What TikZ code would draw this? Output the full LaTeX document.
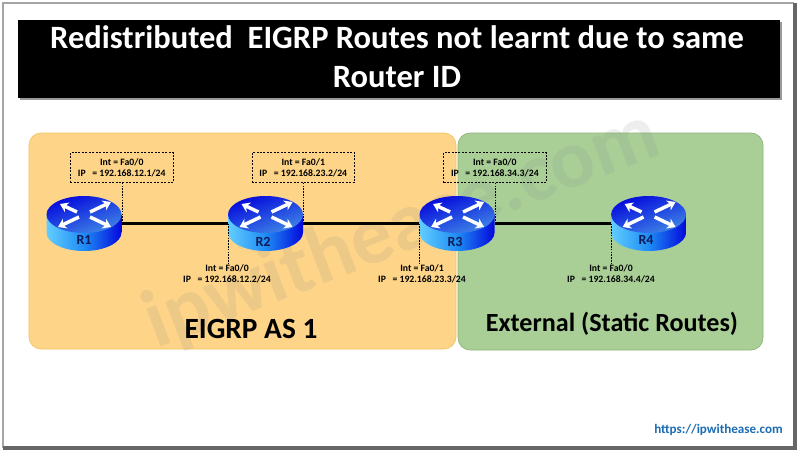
\documentclass[tikz,border=0pt]{standalone}
\usepackage{fontspec}
\setmainfont{Carlito}
\usetikzlibrary{arrows.meta,positioning,shadows}
\definecolor{eigrpfill}{HTML}{FDD488}
\definecolor{eigrpedge}{HTML}{F2C560}
\definecolor{extfill}{HTML}{A9CF97}
\definecolor{extedge}{HTML}{8DB57A}
\definecolor{linkblue}{HTML}{1B6CB4}
\definecolor{sidelight}{HTML}{62CDFF}
\definecolor{sidemid}{HTML}{1E8CF4}
\definecolor{routerdark}{HTML}{0408DC}
\definecolor{toplight}{HTML}{3F86E6}
\definecolor{namenavy}{HTML}{0A1A5A}
\tikzset{
    zone/.style={rounded corners=9pt, line width=0.5pt},
    routerbox/.style={minimum width=56.25pt, minimum height=41.25pt, inner sep=0pt},
    routername/.style={font=\bfseries\fontsize{10.5}{10.5}\selectfont, text=namenavy, inner sep=0pt},
    ifbox/.style={draw, dash pattern=on 1.5pt off 1.1pt, line width=0.35pt, minimum width=77pt, minimum height=22.5pt, inner sep=0pt, align=center, font=\bfseries\fontsize{7.3}{8.25}\selectfont},
    iftext/.style={inner sep=0pt, align=center, font=\bfseries\fontsize{7.3}{8.25}\selectfont},
    iflink/.style={line width=0.4pt, dash pattern=on 1.2pt off 0.9pt},
    link/.style={line width=1.9pt},
    turn/.style={->, >={Stealth[length=6pt,width=8pt]}, white, line width=2.6pt},
    pics/routericon/.style={code={
        \shade[left color=sidelight, right color=routerdark, middle color=sidemid]
            (-37.5,-9) -- (-37.5,9) arc[start angle=180, end angle=0, x radius=37.5, y radius=18.5] -- (37.5,-9) -- cycle;
        \shade[top color=routerdark, bottom color=toplight, shading angle=20]
            (0,-9) ellipse[x radius=37.5, y radius=18.5];
        \draw[turn] (-7,-11.5) -- (-24,-19.5);
        \draw[turn] (6,-11.5) -- (27,-21.5);
        \draw[turn] (-5,-6.5) -- (-26,3.5);
        \draw[turn] (6,-6.5) -- (27,3.5);
    }}
}
\begin{document}
\begin{tikzpicture}[x=0.75pt, y=-0.75pt]
    \useasboundingbox (0,0) rectangle (800,455);
    \fill[white] (0,0) rectangle (800,455);
    \draw[black!35, line width=1.6pt] (3,448) -- (3,3) -- (794,3);
    \draw[black!60, line width=2.6pt] (795,3) -- (795,448) -- (3,448);

    \node[fill=black, drop shadow={shadow xshift=1.2pt, shadow yshift=-1.2pt, fill=gray, opacity=0.8}, minimum width=571.5pt, minimum height=58.5pt, inner sep=0pt] (titlebar) at (399,59) {};
    \node[text=white, align=center, inner sep=0pt, font=\bfseries\fontsize{24.4}{29.25}\selectfont] (titletext) at (397,56.5) {Redistributed \ EIGRP Routes not learnt due to same\\Router ID};

    \fill[eigrpfill, draw=eigrpedge, zone] (29,133) rectangle (456,349);
    \fill[extfill, draw=extedge, zone] (458,133) rectangle (763,350);
    \node[rotate=21, text=black!50, opacity=0.13, inner sep=0pt, font=\bfseries\fontsize{62}{62}\selectfont] (mark) at (402,230) {ipwithease.com};

    \node[routerbox] (R1) at (84,223.5) {};
    \node[routerbox] (R2) [right=79.5pt of R1] {};
    \node[routerbox] (R3) [right=87pt of R2] {};
    \node[routerbox] (R4) [right=87pt of R3] {};

    \draw[link] (R1) -- (R2);
    \draw[link] (R2) -- (R3);
    \draw[link] (R3) -- (R4);

    \pic at (R1) {routericon};
    \pic at (R2) {routericon};
    \pic at (R3) {routericon};
    \pic at (R4) {routericon};

    \node[routername] (R1name) at (84,240) {R1};
    \node[routername] (R2name) at (263,242) {R2};
    \node[routername] (R3name) at (455,242) {R3};
    \node[routername] (R4name) at (646,240) {R4};

    \node[ifbox] (R1if) [above=9.75pt of R1.north east] {Int = Fa0/0\\IP \ \ = 192.168.12.1/24};
    \node[ifbox] (R2if) [above=9.75pt of R2.north east] {Int = Fa0/1\\IP \ \ = 192.168.23.2/24};
    \node[ifbox] (R3if) [above=9.75pt of R3.north east] {Int = Fa0/0\\IP \ \ = 192.168.34.3/24};

    \node[iftext] (R2low) at (227,273.5) {Int = Fa0/0\\IP \ \ = 192.168.12.2/24};
    \node[iftext] (R3low) at (422,273.5) {Int = Fa0/1\\IP \ \ = 192.168.23.3/24};
    \node[iftext] (R4low) at (611,273.5) {Int = Fa0/0\\IP \ \ = 192.168.34.4/24};

    \draw[iflink] (R1if) -- (R1.east);
    \draw[iflink] (R2if) -- (R2.east);
    \draw[iflink] (R3if) -- (R3.east);
    \draw[iflink] (R2.west) -- (R2.west |- R2low.north);
    \draw[iflink] (R3.west) -- (R3.west |- R3low.north);
    \draw[iflink] (R4.west) -- (R4.west |- R4low.north);

    \node[inner sep=0pt, font=\bfseries\fontsize{22}{22}\selectfont] (eigrpname) at (251,329) {EIGRP AS 1};
    \node[inner sep=0pt, font=\bfseries\fontsize{19.6}{19.6}\selectfont] (extname) at (612,324) {External (Static Routes)};
    \node[inner sep=0pt, text=linkblue, font=\bfseries\fontsize{9.8}{9.8}\selectfont] (sitelink) at (718.5,430) {https://ipwithease.com};
\end{tikzpicture}
\end{document}
